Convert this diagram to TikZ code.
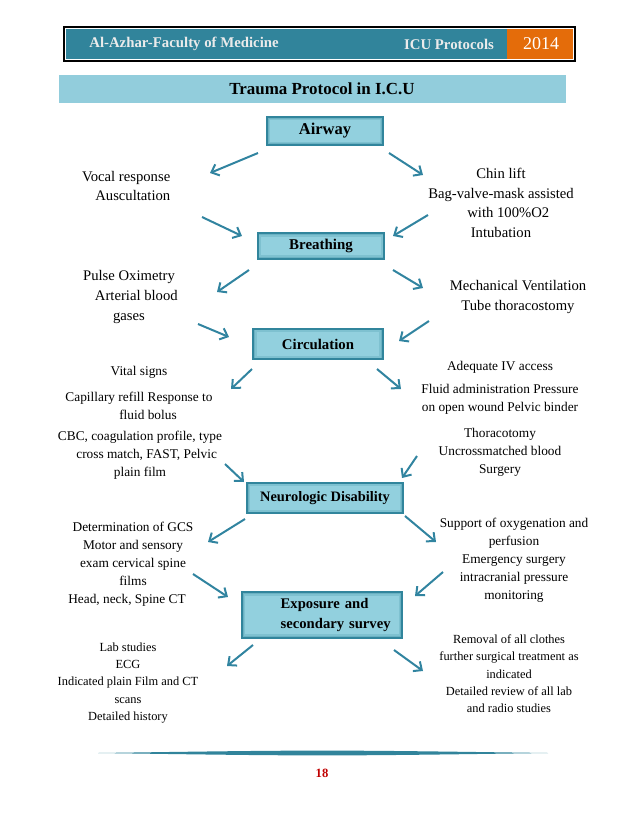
\documentclass[tikz,border=0pt]{standalone}
\usepackage{fontspec}
\setmainfont{Liberation Serif}
\usetikzlibrary{arrows.meta}
\definecolor{headteal}{RGB}{49,132,155}
\definecolor{headorange}{RGB}{228,108,10}
\definecolor{barblue}{RGB}{146,205,220}
\definecolor{boxfill}{RGB}{146,208,222}
\definecolor{boxedge}{RGB}{49,133,156}
\definecolor{arrowteal}{RGB}{49,132,160}
\definecolor{pagered}{RGB}{192,0,0}
\begin{document}
\begin{tikzpicture}[x=0.75pt,y=-0.75pt,
        stage/.style={rectangle,draw=boxedge,fill=boxfill,line width=1.5pt,font=\bfseries,
          path picture={
            \draw[boxedge,line width=5pt,opacity=0.2] (path picture bounding box.south west) rectangle (path picture bounding box.north east);
            \draw[boxedge,line width=2.5pt,opacity=0.25] (path picture bounding box.south west) rectangle (path picture bounding box.north east);}},
        note/.style={align=center,font=\fontsize{10}{13.5}\selectfont},
        bignote/.style={align=center,font=\fontsize{11}{14.8}\selectfont},
        smallnote/.style={align=center,font=\fontsize{9.3}{13}\selectfont},
        flow/.style={draw=arrowteal,line width=1.5pt,-{Straight Barb[length=5pt,width=9pt]}},
      ]
      \useasboundingbox (0,0) rectangle (638,826);
      % header
      \draw[black,line width=0.8pt] (64,27) rectangle (575,61);
      \fill[headteal] (66,29) rectangle (573,59);
      \fill[headorange] (507,29) rectangle (573,59);
      \node[text=white!92!black,font=\fontsize{11.1}{12}\bfseries] at (184,44) (Faculty) {Al-Azhar-Faculty of Medicine};
      \node[text=white!92!black,font=\fontsize{11.1}{12}\bfseries] at (449,44) (Protocols) {ICU Protocols};
      \node[text=white,font=\fontsize{13.5}{15}\selectfont] at (541,44) (Year) {2014};
      \fill[barblue] (59,75) rectangle (566,103);
      \node[font=\fontsize{12.7}{14}\bfseries] at (322,89) (Title) {Trauma Protocol in I.C.U};
%
      \node[stage,minimum width=87pt,minimum height=21pt,font=\fontsize{12.4}{14}\bfseries] at (325,131) (Airway) {Airway};
      \node[stage,minimum width=95pt,minimum height=19pt,font=\fontsize{11.2}{13}\bfseries] at (321,246) (Breathing) {Breathing};
      \node[stage,minimum width=97pt,minimum height=23pt,font=\fontsize{11.1}{13}\bfseries] at (318,344) (Circulation) {Circulation};
      \node[stage,minimum width=117pt,minimum height=23pt,font=\fontsize{10.8}{12}\bfseries] at (325,498) (Neuro) {Neurologic Disability};
      \node[stage,text width=112pt,inner xsep=4pt,minimum height=34pt,align=left,font=\fontsize{11}{14.5}\bfseries] at (322,615) (Exposure) {\hspace*{25pt}Exposure and\\\hspace*{25pt}secondary survey};
%
      \node[bignote,align=right,anchor=east] at (175,186) (Vocal) {Vocal response\\Auscultation};
      \node[bignote] at (501,203) (Chin) {Chin lift\\Bag-valve-mask assisted\\\quad with 100\%O2\\Intubation};
      \node[bignote] at (129,297) (Pulse) {Pulse Oximetry\\\quad Arterial blood\\gases};
      \node[bignote] at (518,297) (Mech) {Mechanical Ventilation\\Tube thoracostomy};
%
      \node[note] at (139,372) (Vital) {Vital signs};
      \node[note] at (139,406) (Capillary) {Capillary refill Response to\\\hspace*{13.5pt}fluid bolus};
      \node[note] at (140,455) (CBC) {CBC, coagulation profile, type\\\quad cross match, FAST, Pelvic\\plain film};
      \node[note] at (500,367) (Access) {Adequate IV access};
      \node[note] at (500,399) (Fluid) {Fluid administration Pressure\\on open wound Pelvic binder};
      \node[note] at (500,452) (Thoraco) {Thoracotomy\\Uncrossmatched blood\\Surgery};
%
      \node[note] at (133,554) (GCS) {Determination of GCS\\Motor and sensory\\exam cervical spine\\films};
      \node[note] at (127,600) (HeadCT) {Head, neck, Spine CT};
      \node[note] at (514,560) (Support) {Support of oxygenation and\\perfusion\\Emergency surgery\\intracranial pressure\\monitoring};
%
      \node[smallnote] at (128,683) (Lab) {Lab studies\\ECG\\Indicated plain Film and CT\\scans\\Detailed history};
      \node[smallnote] at (509,674) (Removal) {Removal of all clothes\\further surgical treatment as\\indicated\\Detailed review of all lab\\and radio studies};
%
      \coordinate (a1s) at (258,153); \coordinate (a1e) at (210,173);
      \coordinate (a2s) at (389,153); \coordinate (a2e) at (423,175);
      \coordinate (a3s) at (202,217); \coordinate (a3e) at (242,236);
      \coordinate (a4s) at (428,215); \coordinate (a4e) at (393,236);
      \coordinate (b1s) at (249,270); \coordinate (b1e) at (217,292);
      \coordinate (b2s) at (393,270); \coordinate (b2e) at (423,288);
      \coordinate (b3s) at (198,324); \coordinate (b3e) at (229,337);
      \coordinate (b4s) at (429,321); \coordinate (b4e) at (399,341);
      \coordinate (c1s) at (252,369); \coordinate (c1e) at (231,389);
      \coordinate (c2s) at (377,369); \coordinate (c2e) at (401,389);
      \coordinate (c3s) at (225,464); \coordinate (c3e) at (244,482);
      \coordinate (c4s) at (417,456); \coordinate (c4e) at (402,478);
      \coordinate (d1s) at (245,519); \coordinate (d1e) at (208,542);
      \coordinate (d2s) at (405,516); \coordinate (d2e) at (436,542);
      \coordinate (d3s) at (193,574); \coordinate (d3e) at (228,597);
      \coordinate (d4s) at (443,572); \coordinate (d4e) at (415,596);
      \coordinate (e1s) at (253,645); \coordinate (e1e) at (227,666);
      \coordinate (e2s) at (394,650); \coordinate (e2e) at (423,671);
      \foreach \s/\e in {a1s/a1e,a2s/a2e,a3s/a3e,a4s/a4e,b1s/b1e,b2s/b2e,b3s/b3e,b4s/b4e,
                         c1s/c1e,c2s/c2e,c3s/c3e,c4s/c4e,d1s/d1e,d2s/d2e,d3s/d3e,d4s/d4e,e1s/e1e,e2s/e2e}
        \path[flow] (\s) -- (\e);
%
      % footer
      \fill[headteal] (98,753) .. controls (322,749.8) .. (548,753) .. controls (322,756.2) .. (98,753);
      \node[text=pagered,font=\fontsize{9.5}{11}\bfseries] at (322,773) (Page) {18};
    \end{tikzpicture}
\end{document}
